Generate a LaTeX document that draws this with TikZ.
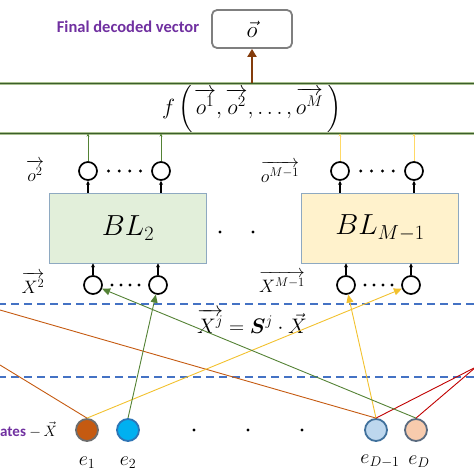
\documentclass[tikz,border=0pt]{standalone}
\usepackage{fix-cm}
\usepackage{amsmath,bm}
\usepackage[no-math]{fontspec}
\setmainfont{Carlito}
\usetikzlibrary{arrows.meta}
\definecolor{purpleT}{HTML}{7030A0}
\definecolor{brownA}{HTML}{843C0C}
\definecolor{gbar}{HTML}{3B5E2B}
\definecolor{gbarlight}{HTML}{A9C08F}
\definecolor{greenL}{HTML}{548235}
\definecolor{yellowL}{HTML}{F2C12E}
\definecolor{yellowT}{HTML}{FFD966}
\definecolor{brownL}{HTML}{C55A11}
\definecolor{redL}{HTML}{C00000}
\definecolor{dashB}{HTML}{4472C4}
\definecolor{boxgray}{HTML}{7F7F7F}
\definecolor{blborder}{HTML}{8EA9C1}
\definecolor{blgreen}{HTML}{E2EFDA}
\definecolor{blyellow}{HTML}{FFF2CC}
\definecolor{etwoB}{HTML}{2E75B6}
\definecolor{etwoF}{HTML}{00B0F0}
\definecolor{edmB}{HTML}{41719C}
\definecolor{edmF}{HTML}{BDD7EE}
\definecolor{edB}{HTML}{5B6B7F}
\definecolor{edF}{HTML}{F8CBAD}
\definecolor{eoneB}{HTML}{6D6D6D}
\begin{document}
\begin{tikzpicture}[x=1pt,y=-1pt,
  neuron/.style={circle, draw=black, line width=1.7pt, minimum size=18pt, inner sep=0pt},
  blbox/.style={draw=blborder, line width=0.8pt, minimum width=157pt, minimum height=70pt, font=\fontsize{29}{34}\selectfont},
  feat/.style={circle, line width=1.8pt, minimum size=22pt, inner sep=0pt},
  smallarr/.style={-{Stealth[length=4pt,width=4pt]}, line width=1.3pt, black},
  lbl/.style={font=\fontsize{18}{21}\selectfont},
  elbl/.style={font=\fontsize{20}{24}\selectfont},
  thin line/.style={line width=0.9pt},
  dashline/.style={dashB, line width=1.7pt, dash pattern=on 8pt off 5pt},
  dotmark/.style={circle, fill=black, inner sep=0pt, minimum size=3.2pt},
  barline/.style={gbar, line width=1.8pt, preaction={draw=gbarlight, line width=3.4pt}}
]
\useasboundingbox (0,0) rectangle (474,474);
\clip (0,0) rectangle (474,474);

% top output box
\node[draw=boxgray, line width=1.8pt, rounded corners=5pt, minimum width=80pt, minimum height=38pt,
      font=\fontsize{23}{27}\selectfont] (out) at (252,29) {$\vec{o}$};
\node[text=purpleT, font=\bfseries\fontsize{16.5}{19}\selectfont] (fdv) at (128,27) {Final decoded vector};

% f bar
\node[minimum width=520pt, minimum height=47pt, inner sep=0pt, font=\fontsize{22}{26}\selectfont] (fbar) at (252,108.5)
  {$f\left(\overrightarrow{o^1},\overrightarrow{o^2},\dots,\overrightarrow{o^M}\,\right)$};
\draw[barline] (fbar.north west) -- (fbar.north east);
\draw[barline] (fbar.south west) -- (fbar.south east);
\draw[brownA, line width=2pt, -{Triangle[length=8pt,width=9pt]}] (fbar.north) -- (out.south);

% BL boxes
\node[blbox, fill=blgreen] (bl2) at (128,228) {$BL_2$};
\node[blbox, fill=blyellow] (blm) at (380,228) {$BL_{M-1}$};
\node[dotmark] (bd1) at (220,232) {};
\node[dotmark] (bd2) at (253,232) {};

% top neurons
\node[neuron] (ot1) at (88,171) {};
\node[neuron] (ot2) at (161,171) {};
\node[neuron] (ot3) at (340,171) {};
\node[neuron] (ot4) at (414,171) {};
% bottom neurons
\node[neuron] (xb1) at (93,285) {};
\node[neuron] (xb2) at (158,285) {};
\node[neuron] (xb3) at (346,285) {};
\node[neuron] (xb4) at (411,285) {};

\foreach \a/\b in {ot1/ot2, ot3/ot4, xb1/xb2, xb3/xb4}{
  \path (\a.east) -- (\b.west)
    node[pos=0.2, dotmark]{} node[pos=0.4, dotmark]{} node[pos=0.6, dotmark]{} node[pos=0.8, dotmark]{};
}

% small black arrows
\foreach \n/\bx in {ot1/bl2, ot2/bl2, ot3/blm, ot4/blm}{
  \draw[smallarr] (\n.south |- \bx.north) -- (\n.south);
}
\foreach \n/\bx in {xb1/bl2, xb2/bl2, xb3/blm, xb4/blm}{
  \draw[smallarr] (\n.north) -- (\n.north |- \bx.south);
}
% lines to f bar
\foreach \n in {ot1, ot2}{
  \draw[greenL, line width=1pt, -{Stealth[length=3pt,width=3pt]}] (\n.north) -- (\n.north |- fbar.south);
}
\foreach \n in {ot3, ot4}{
  \draw[yellowT, line width=1pt, -{Stealth[length=3pt,width=3pt]}] (\n.north) -- (\n.north |- fbar.south);
}

% labels
\node[lbl] (lo2) at (35,171) {$\overrightarrow{o^2}$};
\node[lbl] (loM) at (280,172) {$\overrightarrow{o^{M-1}}$};
\node[lbl] (lx2) at (33,283) {$\overrightarrow{X^2}$};
\node[lbl] (lxM) at (282,282) {$\overrightarrow{X^{M-1}}$};

% dashed lines
\draw[dashline] (-2,304) -- (476,304);
\draw[dashline] (-2,377) -- (476,377);
\node[font=\fontsize{21}{25}\selectfont] (eq) at (252,321) {$\overrightarrow{X^j} = \bm{S}^j\cdot\vec{X}$};

% feature circles
\node[feat, draw=eoneB, fill=brownL] (e1) at (87,430) {};
\node[feat, draw=etwoB, fill=etwoF] (e2) at (128,430) {};
\node[dotmark] (d1) at (194,430) {};
\node[dotmark] (d2) at (248,430) {};
\node[dotmark] (d3) at (302,430) {};
\node[feat, draw=edmB, fill=edmF] (eDm) at (376,430) {};
\node[feat, draw=edB, fill=edF] (eD) at (416,430) {};
\node[elbl] at (87,463) {$e_1$};
\node[elbl] at (128,463) {$e_2$};
\node[elbl] at (380,461) {$e_{D-1}$};
\node[elbl] at (419,462) {$e_D$};
\node[anchor=west, inner sep=0pt, font=\fontsize{15}{18}\selectfont] (ates) at (0,430) {\textcolor{purpleT}{\bfseries ates} $-\,\vec{X}$};

% coordinates off the picture edge
\coordinate (leftA) at (0,365);
\coordinate (leftB) at (0,310);
\coordinate (rightR) at (476,367);

% connectors
\draw[brownL, thin line] (e1.north) -- (leftA);
\draw[brownL, thin line] (eDm.north) -- (leftB);
\draw[redL, thin line] (eDm.north) -- (rightR);
\draw[redL, thin line] (eD.north) -- (rightR);
\draw[yellowL, thin line, -{Triangle[length=8pt,width=7pt]}] (e1.north) -- (xb4);
\draw[yellowL, thin line, -{Triangle[length=8pt,width=7pt]}] (eDm.north) -- (xb3);
\draw[greenL, thin line, -{Triangle[length=8pt,width=7pt]}] (e2.north) -- (xb2);
\draw[greenL, thin line, -{Triangle[length=8pt,width=7pt]}] (eD.north) -- (xb1);
\end{tikzpicture}
\end{document}
